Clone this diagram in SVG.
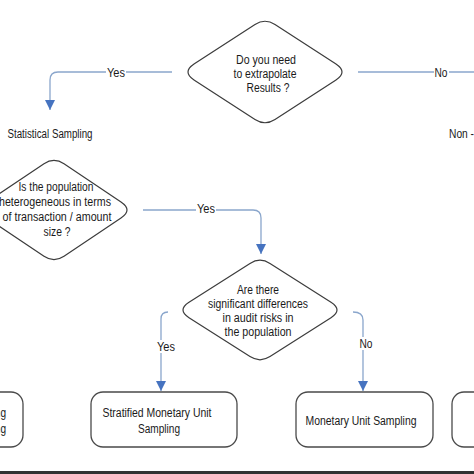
<svg xmlns="http://www.w3.org/2000/svg" width="474" height="474" viewBox="0 0 474 474">
<style>
text{font-family:"Liberation Sans",Arial,sans-serif;font-size:12px;fill:#1a1a1a;text-anchor:middle}
.dia{fill:#fff;stroke:#3c3c3c;stroke-width:1.2}
.box{fill:#fff;stroke:#4a4a4a;stroke-width:1.3}
.con{fill:none;stroke:#8aa6cc;stroke-width:1.3}
.lbg{fill:#fff}
</style>
<defs>
<marker id="ah" viewBox="0 0 10 10" refX="10" refY="5" markerUnits="userSpaceOnUse" markerWidth="10" markerHeight="10" orient="auto">
<path d="M0,0 L10,5 L0,10 z" fill="#4673c0"/>
</marker>
</defs>
<rect width="474" height="474" fill="#fff"/>

<g id="connectors">
<path class="con" d="M172,72 H58 Q50,72 50,80 V110" marker-end="url(#ah)"/>
<path class="con" d="M358,72 H474"/>
<path class="con" d="M143,210 H253 Q261,210 261,218 V254" marker-end="url(#ah)"/>
<path class="con" d="M168,312 Q161,312 161,319 V391" marker-end="url(#ah)"/>
<path class="con" d="M353,312 Q363,312 363,320 V391" marker-end="url(#ah)"/>
<rect class="lbg" x="106" y="65" width="20" height="13"/>
<text x="116" y="77" textLength="18" lengthAdjust="spacingAndGlyphs">Yes</text>
<rect class="lbg" x="434" y="65" width="15" height="13"/>
<text x="441" y="77" textLength="13" lengthAdjust="spacingAndGlyphs">No</text>
<rect class="lbg" x="196" y="203" width="20" height="12"/>
<text x="206" y="213" textLength="18" lengthAdjust="spacingAndGlyphs">Yes</text>
<rect class="lbg" x="156" y="340" width="21" height="13"/>
<text x="166" y="351" textLength="18" lengthAdjust="spacingAndGlyphs">Yes</text>
<rect class="lbg" x="359" y="337" width="15" height="13"/>
<text x="366" y="348" textLength="13" lengthAdjust="spacingAndGlyphs">No</text>
</g>

<g id="d1">
<path class="dia" d="M275,24.5 L336,64 Q348,72 336,80 L275,119.5 Q265,126 255,119.5 L194,80 Q182,72 194,64 L255,24.5 Q265,18 275,24.5 Z"/>
<text x="266" y="64" textLength="60" lengthAdjust="spacingAndGlyphs">Do you need</text>
<text x="265" y="78" textLength="63" lengthAdjust="spacingAndGlyphs">to extrapolate</text>
<text x="268" y="92" textLength="43" lengthAdjust="spacingAndGlyphs">Results ?</text>
</g>

<g id="statistical">
<text x="50" y="138" textLength="85" lengthAdjust="spacingAndGlyphs">Statistical Sampling</text>
</g>

<g id="nonstatistical">
<text x="449" y="138" style="text-anchor:start" textLength="25" lengthAdjust="spacingAndGlyphs">Non -</text>
</g>

<g id="d2">
<path class="dia" d="M64,163.7 L121,202 Q133,210 121,218 L64,256.3 Q54,263 44,256.3 L-13,218 Q-25,210 -13,202 L44,163.7 Q54,157 64,163.7 Z"/>
<text x="56" y="191" textLength="75" lengthAdjust="spacingAndGlyphs">Is the population</text>
<text x="55" y="206" textLength="112" lengthAdjust="spacingAndGlyphs">heterogeneous in terms</text>
<text x="57" y="221" textLength="109" lengthAdjust="spacingAndGlyphs">of  transaction / amount</text>
<text x="57" y="236" textLength="27" lengthAdjust="spacingAndGlyphs">size ?</text>
</g>

<g id="d3">
<path class="dia" d="M270,263.4 L331,302.3 Q343,310 331,317.7 L270,356.6 Q260,363 250,356.6 L189,317.7 Q177,310 189,302.3 L250,263.4 Q260,257 270,263.4 Z"/>
<text x="258" y="294" textLength="42" lengthAdjust="spacingAndGlyphs">Are there</text>
<text x="258" y="308" textLength="100" lengthAdjust="spacingAndGlyphs">significant differences</text>
<text x="258" y="322" textLength="71" lengthAdjust="spacingAndGlyphs">in audit risks in</text>
<text x="258" y="336" textLength="67" lengthAdjust="spacingAndGlyphs">the population</text>
</g>

<g id="b-left">
<rect class="box" x="-60" y="392" width="83" height="55" rx="12"/>
<text x="6" y="417" style="text-anchor:end" textLength="42" lengthAdjust="spacingAndGlyphs">Sampling</text>
<text x="6" y="433" style="text-anchor:end" textLength="42" lengthAdjust="spacingAndGlyphs">Sampling</text>
</g>

<g id="b-stratified">
<rect class="box" x="91" y="392" width="146" height="55" rx="12"/>
<text x="157" y="417" textLength="109" lengthAdjust="spacingAndGlyphs">Stratified Monetary Unit</text>
<text x="159" y="433" textLength="42" lengthAdjust="spacingAndGlyphs">Sampling</text>
</g>

<g id="b-mus">
<rect class="box" x="296" y="392" width="137" height="55" rx="12"/>
<text x="361" y="425" textLength="111" lengthAdjust="spacingAndGlyphs">Monetary Unit Sampling</text>
</g>

<g id="b-right">
<rect class="box" x="452" y="392" width="80" height="55" rx="12"/>
</g>

<rect x="0" y="471" width="474" height="3" fill="#333"/>
</svg>
